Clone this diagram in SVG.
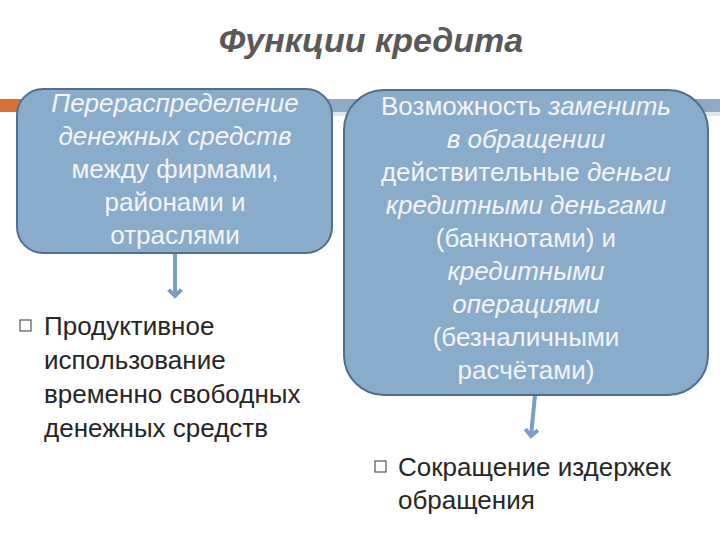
<svg xmlns="http://www.w3.org/2000/svg" width="720" height="540" viewBox="0 0 720 540">
<style>
.box{fill:#8aaccb;stroke:#4f6f8f;stroke-width:2}
.bt{font-family:"Liberation Sans",Arial,sans-serif;font-size:26px;fill:#f2f4f7;text-anchor:middle}
.i{font-style:italic}
.body{font-family:"Liberation Sans",Arial,sans-serif;font-size:26px;fill:#262626}
.conn{stroke:#7a9fc4;stroke-width:4;fill:none}
</style>
<defs>
<marker id="ah" viewBox="0 0 10 10" refX="5" refY="5" markerWidth="4" markerHeight="4" orient="auto"><path d="M1,1 L5,5 L1,9" fill="none" stroke="#7a9fc4" stroke-width="2.5"/></marker>
</defs>
<rect width="720" height="540" fill="#fff"/>
<text x="371" y="52" font-family="Liberation Sans,Arial,sans-serif" font-size="34" font-weight="bold" font-style="italic" fill="#595959" text-anchor="middle">Функции кредита</text>
<rect x="0" y="99" width="26" height="13" fill="#d9703a"/>
<rect x="26" y="99" width="694" height="13" fill="#8eaac6"/>
<rect x="26" y="112" width="694" height="4" fill="#dce6f0"/>
<g id="conns">
<line class="conn" x1="175" y1="253" x2="175" y2="296" marker-end="url(#ah)"/>
<line class="conn" x1="535" y1="395" x2="531" y2="436" marker-end="url(#ah)"/>
</g>
<g id="n1">
<rect class="box" x="17" y="89" width="315" height="164" rx="26"/>
<text class="bt i" x="175" y="112">Перераспределение</text>
<text class="bt i" x="175" y="145">денежных средств</text>
<text class="bt" x="175" y="178">между фирмами,</text>
<text class="bt" x="175" y="211">районами и</text>
<text class="bt" x="175" y="244">отраслями</text>
</g>
<g id="n2">
<rect class="box" x="344" y="90" width="364" height="305" rx="40"/>
<text class="bt" x="526" y="115"><tspan>Возможность </tspan><tspan class="i">заменить</tspan></text>
<text class="bt i" x="526" y="148">в обращении</text>
<text class="bt" x="526" y="181"><tspan>действительные </tspan><tspan class="i">деньги</tspan></text>
<text class="bt i" x="526" y="214">кредитными деньгами</text>
<text class="bt" x="526" y="247">(банкнотами) и</text>
<text class="bt i" x="526" y="280">кредитными</text>
<text class="bt i" x="526" y="313">операциями</text>
<text class="bt" x="526" y="346">(безналичными</text>
<text class="bt" x="526" y="379">расчётами)</text>
</g>
<g id="n3">
<rect x="20" y="320" width="11" height="11" fill="none" stroke="#555" stroke-width="1.2"/>
<text class="body" x="44" y="335">Продуктивное</text>
<text class="body" x="44" y="369">использование</text>
<text class="body" x="44" y="403">временно свободных</text>
<text class="body" x="44" y="437">денежных средств</text>
</g>
<g id="n4">
<rect x="375" y="461" width="11" height="11" fill="none" stroke="#555" stroke-width="1.2"/>
<text class="body" x="398" y="476">Сокращение издержек</text>
<text class="body" x="398" y="509">обращения</text>
</g>
</svg>
